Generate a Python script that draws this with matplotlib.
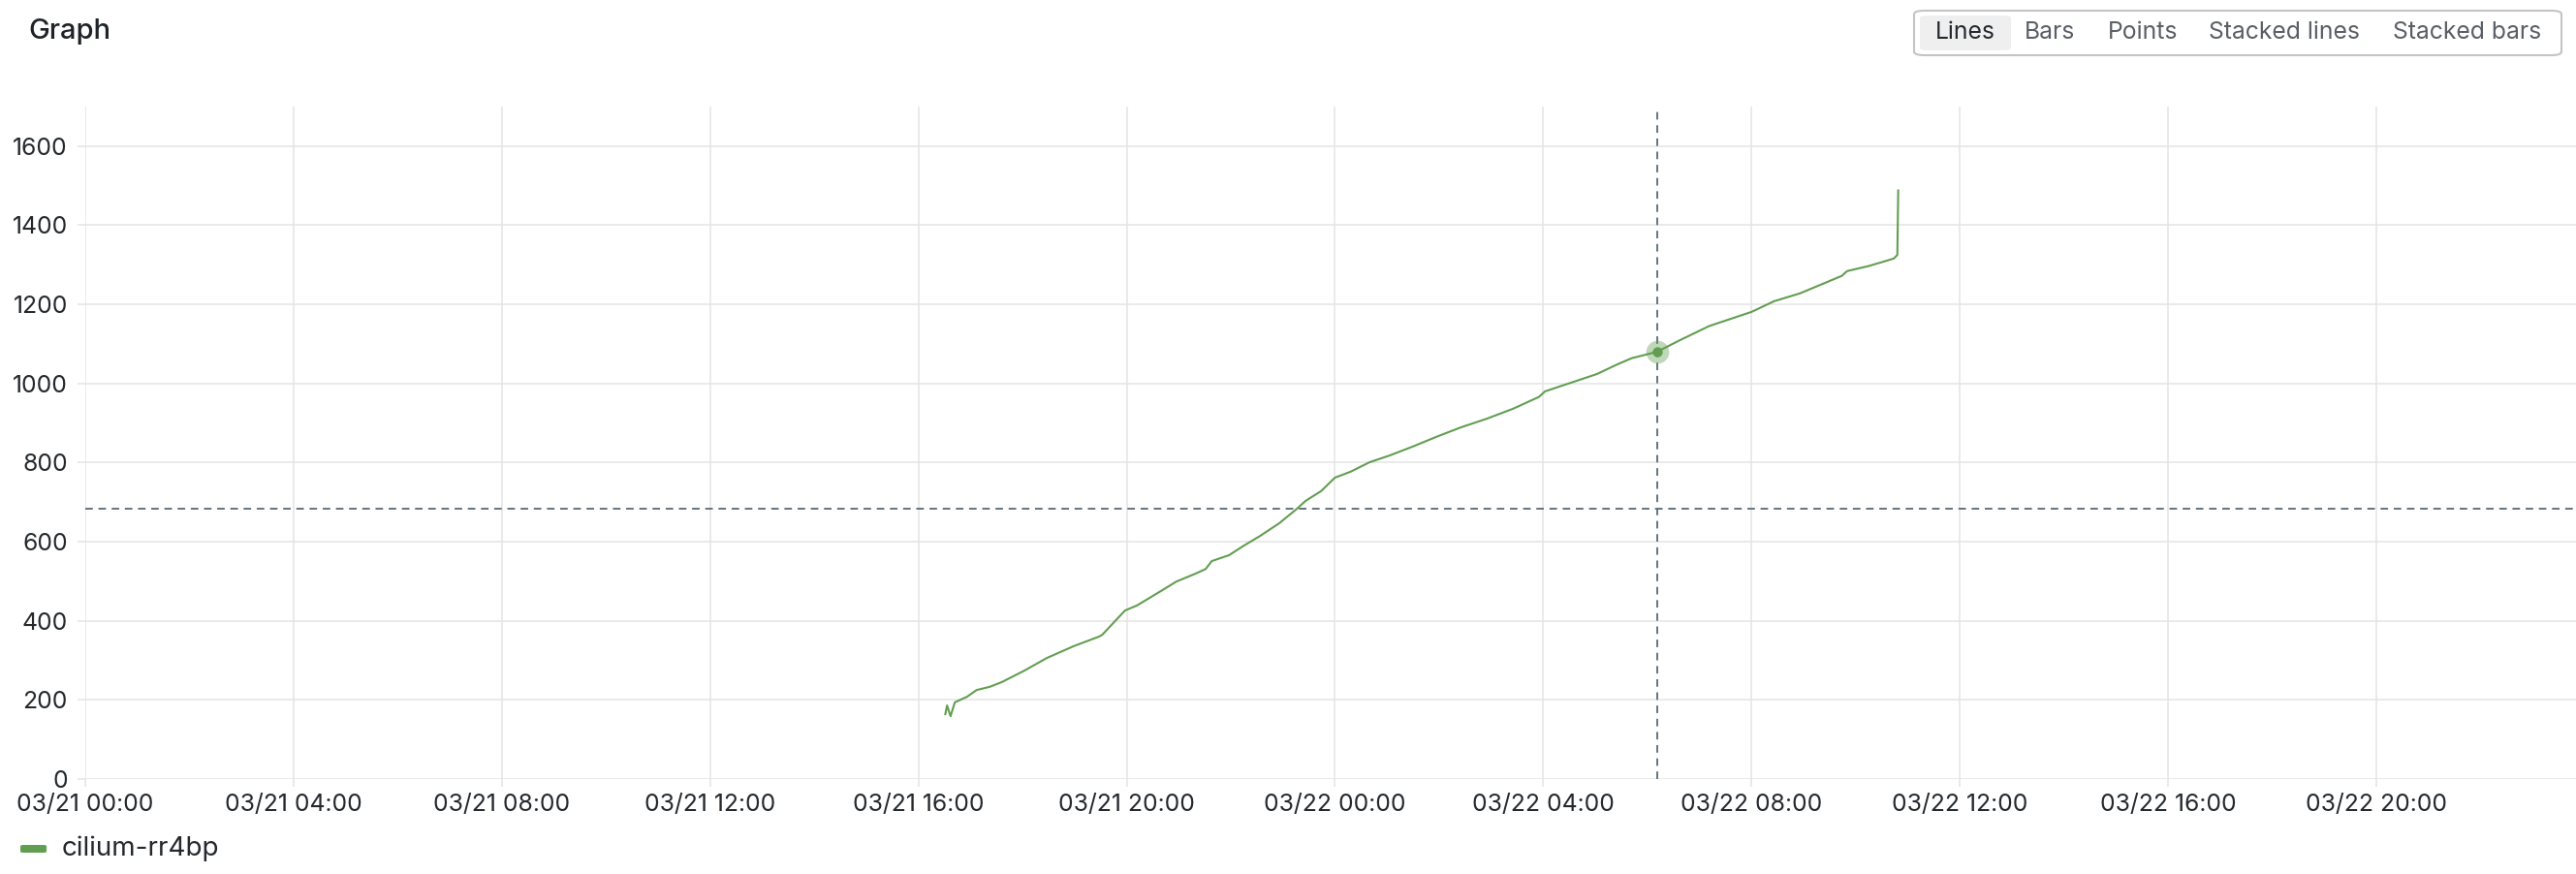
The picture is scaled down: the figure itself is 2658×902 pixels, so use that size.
import numpy as np
import pandas as pd
import matplotlib
matplotlib.use("Agg")
import matplotlib.pyplot as plt
import matplotlib.dates as mdates
from matplotlib.patches import FancyBboxPatch

plt.rcParams['font.family'] = ['Inter', 'DejaVu Sans']

# series
times = [
    "2025-03-21 16:31", "2025-03-21 16:33", "2025-03-21 16:37", "2025-03-21 16:42",
    "2025-03-21 16:56", "2025-03-21 17:07", "2025-03-21 17:22", "2025-03-21 17:36",
    "2025-03-21 18:02", "2025-03-21 18:28", "2025-03-21 18:59", "2025-03-21 19:28",
    "2025-03-21 19:32", "2025-03-21 19:58", "2025-03-21 20:12", "2025-03-21 20:43",
    "2025-03-21 20:57", "2025-03-21 21:19", "2025-03-21 21:31", "2025-03-21 21:38",
    "2025-03-21 21:58", "2025-03-21 22:15", "2025-03-21 22:34", "2025-03-21 22:56",
    "2025-03-21 23:16", "2025-03-21 23:26", "2025-03-21 23:44", "2025-03-22 00:00",
    "2025-03-22 00:18", "2025-03-22 00:40", "2025-03-22 01:03", "2025-03-22 01:29",
    "2025-03-22 01:59", "2025-03-22 02:25", "2025-03-22 02:55", "2025-03-22 03:25",
    "2025-03-22 03:55", "2025-03-22 04:02", "2025-03-22 04:32", "2025-03-22 05:02",
    "2025-03-22 05:24", "2025-03-22 05:42", "2025-03-22 06:11", "2025-03-22 06:38",
    "2025-03-22 07:11", "2025-03-22 07:30", "2025-03-22 08:00", "2025-03-22 08:26",
    "2025-03-22 08:56", "2025-03-22 09:44", "2025-03-22 09:50", "2025-03-22 10:15",
    "2025-03-22 10:29", "2025-03-22 10:44", "2025-03-22 10:48", "2025-03-22 10:49",
]
values = [
    164, 186, 159, 194,
    208, 225, 233, 245,
    274, 306, 336, 360,
    365, 426, 439, 480,
    499, 519, 531, 551,
    566, 590, 615, 647,
    683, 703, 728, 762,
    777, 801, 818, 840,
    867, 889, 911, 936,
    966, 980, 1002, 1024,
    1047, 1064, 1080, 1110,
    1145, 1159, 1181, 1208,
    1228, 1272, 1284, 1297,
    1306, 1316, 1325, 1488,
]
series_name = "cilium-rr4bp"

hover_time = "2025-03-22 06:11"
hover_value = 1080
cursor_y = 683

y_ticks = [0, 200, 400, 600, 800, 1000, 1200, 1400, 1600]
x_start = "2025-03-21 00:00"
x_end = "2025-03-22 23:50"

buttons = ["Lines", "Bars", "Points", "Stacked lines", "Stacked bars"]

GREEN = "#629e51"
GRID = "#e4e4e4"
TEXT = "#24292e"
CROSS = "#637480"

W, H = 2658, 902
fig = plt.figure(figsize=(W / 100, H / 100), dpi=100)

# plot area in pixels: left 88, bottom 804, top 110, right edge of image
ax = fig.add_axes([88 / W, (H - 804) / H, (W - 88) / W, (804 - 110) / H])

t = pd.to_datetime(times)
ax.plot(t, values, color=GREEN, lw=1.5, solid_joinstyle="round", zorder=3)

# crosshair + hover point
ax.axvline(pd.Timestamp(hover_time), color=CROSS, lw=1.4, ls=(0, (4, 3)), zorder=2)
ax.axhline(cursor_y, color=CROSS, lw=1.4, ls=(0, (4, 3)), zorder=2)
ax.plot([pd.Timestamp(hover_time)], [hover_value], "o", ms=17, color=GREEN, alpha=0.4, mec="none", zorder=4)
ax.plot([pd.Timestamp(hover_time)], [hover_value], "o", ms=7.5, color=GREEN, mec="none", zorder=5)

ax.set_xlim(pd.Timestamp(x_start), pd.Timestamp(x_end))
ax.set_ylim(0, 1700)
ax.set_yticks(y_ticks)
ax.xaxis.set_major_locator(mdates.HourLocator(byhour=[0, 4, 8, 12, 16, 20]))
ax.xaxis.set_major_formatter(mdates.DateFormatter("%m/%d %H:%M"))

ax.grid(True, color=GRID, lw=1.1)
ax.set_axisbelow(True)
for s in ax.spines.values():
    s.set_visible(False)
ax.tick_params(axis="both", colors=GRID, length=6, width=1.1, labelcolor=TEXT, labelsize=17.8, pad=7)
ax.tick_params(axis="x", pad=5)

# title
fig.text(29 / W, 1 - 33 / H, "Graph", fontsize=21, fontweight="medium", color="#1f2328",
         va="center", ha="left")

# button group
box = FancyBboxPatch((1975 / W, 1 - 57 / H), (2643 - 1975) / W, 46 / H,
                     boxstyle="round,pad=0,rounding_size=0.004", transform=fig.transFigure,
                     fc="white", ec="#c4c4c4", lw=1.5)
fig.patches.append(box)
sel = FancyBboxPatch((1981 / W, 1 - 52 / H), (2075 - 1981) / W, 36 / H,
                     boxstyle="round,pad=0,rounding_size=0.003", transform=fig.transFigure,
                     fc="#efefef", ec="none")
fig.patches.append(sel)
btn_x = [2028, 2115, 2211, 2357, 2546]
for i, (label, bx) in enumerate(zip(buttons, btn_x)):
    fig.text(bx / W, 1 - 34 / H, label, fontsize=17.8, ha="center", va="center",
             color=TEXT if i == 0 else "#5a5f65")

# legend
leg = FancyBboxPatch((21 / W, 1 - 880 / H), 27 / W, 8 / H,
                     boxstyle="round,pad=0,rounding_size=0.0012", transform=fig.transFigure,
                     fc=GREEN, ec="none")
fig.patches.append(leg)
fig.text(64 / W, 1 - 876 / H, series_name, fontsize=20, color=TEXT, va="center", ha="left")

fig.savefig("out.png", dpi=100, facecolor="white")
